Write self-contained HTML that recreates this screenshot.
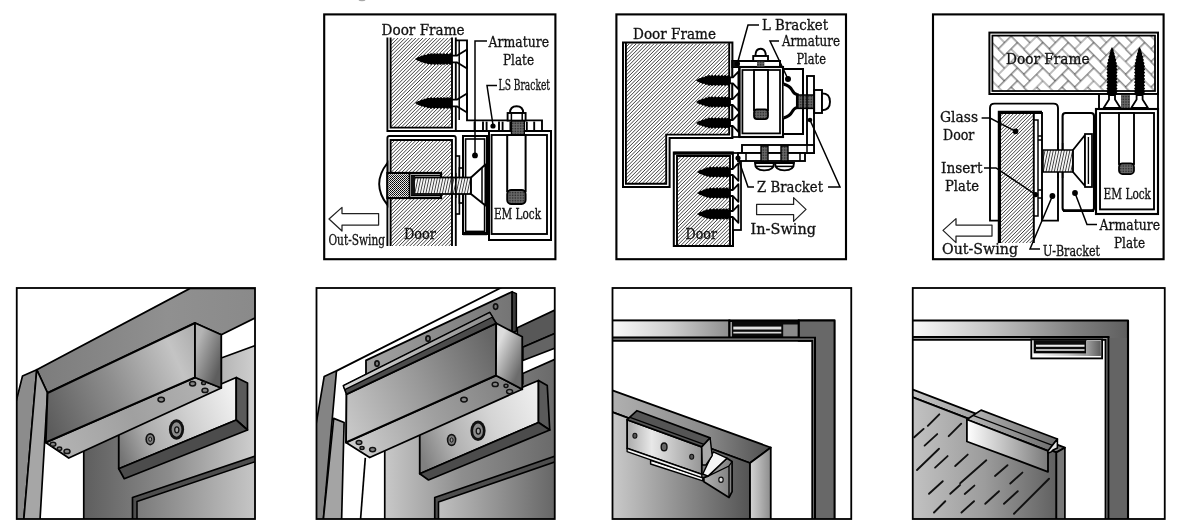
<!DOCTYPE html>
<html><head><meta charset="utf-8"><title>Magnetic lock mounting diagrams</title>
<style>html,body{margin:0;padding:0;background:#fff;}svg{display:block;will-change:transform;}</style>
</head><body>
<svg width="1185" height="526" viewBox="0 0 1185 526">
<rect width="1185" height="526" fill="#fff"/>
<ellipse cx="362" cy="-0.4" rx="3.6" ry="1.6" fill="#a8a8a8"/>
<defs>
<pattern id="hatch" width="2.5" height="6" patternUnits="userSpaceOnUse" patternTransform="rotate(45)"><rect width="0.9" height="6" fill="#1a1a1a"/></pattern>
<pattern id="knurl" width="2" height="2" patternUnits="userSpaceOnUse"><rect width="2" height="2" fill="#fff"/><rect width="1.1" height="1.1" fill="#000"/><rect x="1" y="1" width="1.0" height="1.0" fill="#222"/></pattern>
<pattern id="knurl2" width="1.6" height="1.6" patternUnits="userSpaceOnUse"><rect width="1.6" height="1.6" fill="#6a6a6a"/><rect width="0.8" height="0.8" fill="#222"/></pattern>
<pattern id="thread" width="2.7" height="30" patternUnits="userSpaceOnUse" patternTransform="rotate(12)"><rect width="2.7" height="30" fill="#f4f4f4"/><rect width="0.85" height="30" fill="#333"/></pattern>
<pattern id="hb" width="36.0" height="36.0" patternUnits="userSpaceOnUse" patternTransform="translate(992 30) rotate(45)"><g fill="#fff" stroke="#222" stroke-width="0.6"><rect x="-9.0" y="27.0" width="18.0" height="9.0"/><rect x="0.0" y="0.0" width="18.0" height="9.0"/><rect x="0.0" y="9.0" width="9.0" height="18.0"/><rect x="9.0" y="9.0" width="18.0" height="9.0"/><rect x="9.0" y="18.0" width="9.0" height="18.0"/><rect x="18.0" y="-9.0" width="9.0" height="18.0"/><rect x="18.0" y="18.0" width="18.0" height="9.0"/><rect x="18.0" y="27.0" width="9.0" height="18.0"/><rect x="27.0" y="0.0" width="9.0" height="18.0"/><rect x="27.0" y="27.0" width="18.0" height="9.0"/></g></pattern>
</defs>
<g id="top1">
<rect x="324.2" y="14.4" width="231.2" height="244.8" fill="none" stroke="#000" stroke-width="2.12" rx="0"/>
<clipPath id="hc1"><polygon points="391,38 451.6,38 451.6,127 391,127"/></clipPath>
<path clip-path="url(#hc1)" d="M302.00,127.00l89.00,-89.00M305.55,127.00l89.00,-89.00M309.10,127.00l89.00,-89.00M312.65,127.00l89.00,-89.00M316.20,127.00l89.00,-89.00M319.75,127.00l89.00,-89.00M323.30,127.00l89.00,-89.00M326.85,127.00l89.00,-89.00M330.40,127.00l89.00,-89.00M333.95,127.00l89.00,-89.00M337.50,127.00l89.00,-89.00M341.05,127.00l89.00,-89.00M344.60,127.00l89.00,-89.00M348.15,127.00l89.00,-89.00M351.70,127.00l89.00,-89.00M355.25,127.00l89.00,-89.00M358.80,127.00l89.00,-89.00M362.35,127.00l89.00,-89.00M365.90,127.00l89.00,-89.00M369.45,127.00l89.00,-89.00M373.00,127.00l89.00,-89.00M376.55,127.00l89.00,-89.00M380.10,127.00l89.00,-89.00M383.65,127.00l89.00,-89.00M387.20,127.00l89.00,-89.00M390.75,127.00l89.00,-89.00M394.30,127.00l89.00,-89.00M397.85,127.00l89.00,-89.00M401.40,127.00l89.00,-89.00M404.95,127.00l89.00,-89.00M408.50,127.00l89.00,-89.00M412.05,127.00l89.00,-89.00M415.60,127.00l89.00,-89.00M419.15,127.00l89.00,-89.00M422.70,127.00l89.00,-89.00M426.25,127.00l89.00,-89.00M429.80,127.00l89.00,-89.00M433.35,127.00l89.00,-89.00M436.90,127.00l89.00,-89.00M440.45,127.00l89.00,-89.00M444.00,127.00l89.00,-89.00M447.55,127.00l89.00,-89.00M451.10,127.00l89.00,-89.00" stroke="#1c1c1c" stroke-width="0.85" fill="none"/>
<path d="M387.4,37.5 V131 H455.8 V37.5" fill="none" stroke="#000" stroke-width="1.88" />
<path d="M390.6,37.5 V127.6 H452 V37.5" fill="none" stroke="#000" stroke-width="1.88" />
<clipPath id="hc2"><polygon points="391,140.5 451.6,140.5 451.6,246 391,246"/></clipPath>
<path clip-path="url(#hc2)" d="M285.50,246.00l105.50,-105.50M289.05,246.00l105.50,-105.50M292.60,246.00l105.50,-105.50M296.15,246.00l105.50,-105.50M299.70,246.00l105.50,-105.50M303.25,246.00l105.50,-105.50M306.80,246.00l105.50,-105.50M310.35,246.00l105.50,-105.50M313.90,246.00l105.50,-105.50M317.45,246.00l105.50,-105.50M321.00,246.00l105.50,-105.50M324.55,246.00l105.50,-105.50M328.10,246.00l105.50,-105.50M331.65,246.00l105.50,-105.50M335.20,246.00l105.50,-105.50M338.75,246.00l105.50,-105.50M342.30,246.00l105.50,-105.50M345.85,246.00l105.50,-105.50M349.40,246.00l105.50,-105.50M352.95,246.00l105.50,-105.50M356.50,246.00l105.50,-105.50M360.05,246.00l105.50,-105.50M363.60,246.00l105.50,-105.50M367.15,246.00l105.50,-105.50M370.70,246.00l105.50,-105.50M374.25,246.00l105.50,-105.50M377.80,246.00l105.50,-105.50M381.35,246.00l105.50,-105.50M384.90,246.00l105.50,-105.50M388.45,246.00l105.50,-105.50M392.00,246.00l105.50,-105.50M395.55,246.00l105.50,-105.50M399.10,246.00l105.50,-105.50M402.65,246.00l105.50,-105.50M406.20,246.00l105.50,-105.50M409.75,246.00l105.50,-105.50M413.30,246.00l105.50,-105.50M416.85,246.00l105.50,-105.50M420.40,246.00l105.50,-105.50M423.95,246.00l105.50,-105.50M427.50,246.00l105.50,-105.50M431.05,246.00l105.50,-105.50M434.60,246.00l105.50,-105.50M438.15,246.00l105.50,-105.50M441.70,246.00l105.50,-105.50M445.25,246.00l105.50,-105.50M448.80,246.00l105.50,-105.50" stroke="#1c1c1c" stroke-width="0.85" fill="none"/>
<path d="M387.4,246 V138 Q387.4,136 389.4,136 H453.8 Q455.8,136 455.8,138 V246" fill="none" stroke="#000" stroke-width="1.88" />
<path d="M390.6,246 V140 H452 V246" fill="none" stroke="#000" stroke-width="1.88" />
<polygon fill="#000" points="415.0,59.0 416.6,57.9 418.2,56.9 419.8,56.7 421.4,55.5 423.0,55.8 424.7,54.4 426.3,54.9 427.9,53.4 429.5,54.2 431.1,53.0 432.7,54.2 434.3,53.0 435.9,54.2 437.5,53.0 439.1,54.2 440.7,53.0 442.3,54.2 444.0,53.0 445.6,54.2 447.2,53.0 448.8,54.2 450.4,53.0 452.0,54.2 452.0,63.8 450.4,65.0 448.8,63.8 447.2,65.0 445.6,63.8 444.0,65.0 442.3,63.8 440.7,65.0 439.1,63.8 437.5,65.0 435.9,63.8 434.3,65.0 432.7,63.8 431.1,65.0 429.5,63.8 427.9,64.6 426.3,63.1 424.7,63.6 423.0,62.2 421.4,62.5 419.8,61.3 418.2,61.1 416.6,60.1 415.0,59.0"/>
<polygon fill="#fff" stroke="#000" stroke-width="1.8" stroke-linejoin="round" points="452,55.6 457.2,55.6 467,49.5 467,68.5 457.2,62.4 452,62.4"/>
<polygon fill="#000" points="415.0,103.0 416.6,101.9 418.2,100.9 419.8,100.7 421.4,99.5 423.0,99.8 424.7,98.4 426.3,98.9 427.9,97.4 429.5,98.2 431.1,97.0 432.7,98.2 434.3,97.0 435.9,98.2 437.5,97.0 439.1,98.2 440.7,97.0 442.3,98.2 444.0,97.0 445.6,98.2 447.2,97.0 448.8,98.2 450.4,97.0 452.0,98.2 452.0,107.8 450.4,109.0 448.8,107.8 447.2,109.0 445.6,107.8 444.0,109.0 442.3,107.8 440.7,109.0 439.1,107.8 437.5,109.0 435.9,107.8 434.3,109.0 432.7,107.8 431.1,109.0 429.5,107.8 427.9,108.6 426.3,107.1 424.7,107.6 423.0,106.2 421.4,106.5 419.8,105.3 418.2,105.1 416.6,104.1 415.0,103.0"/>
<polygon fill="#fff" stroke="#000" stroke-width="1.8" stroke-linejoin="round" points="452,99.6 457.2,99.6 467,93.5 467,112.5 457.2,106.4 452,106.4"/>
<path d="M455.8,40.4 H467 V120.4 H542 V131" fill="none" stroke="#000" stroke-width="1.88" />
<path d="M459.2,40.4 V120" fill="none" stroke="#000" stroke-width="1.5" />
<path d="M474.6,121.6 V131" fill="none" stroke="#000" stroke-width="1.88" />
<path d="M483,121.6 V131" fill="none" stroke="#000" stroke-width="1.88" />
<path d="M486.6,121.6 V131" fill="none" stroke="#000" stroke-width="1.88" />
<path d="M499,121.6 V131" fill="none" stroke="#000" stroke-width="1.88" />
<path d="M502.6,121.6 V131" fill="none" stroke="#000" stroke-width="1.88" />
<path d="M510.4,121.6 V131" fill="none" stroke="#000" stroke-width="1.88" />
<path d="M526.8,121.6 V131" fill="none" stroke="#000" stroke-width="1.88" />
<path d="M534.2,121.6 V131" fill="none" stroke="#000" stroke-width="1.88" />
<rect x="455.8" y="156" width="3.6" height="58" fill="#fff" stroke="#000" stroke-width="1.62" rx="0"/>
<rect x="459.4" y="168" width="3.6" height="35" fill="#fff" stroke="#000" stroke-width="1.62" rx="0"/>
<rect x="463" y="136" width="24" height="98" fill="#fff" stroke="#000" stroke-width="2.0" rx="0"/>
<rect x="465.6" y="139" width="19.0" height="92.4" fill="#fff" stroke="#000" stroke-width="1.62" rx="0"/>
<path d="M463,233.6 H487" fill="none" stroke="#000" stroke-width="3.25" />
<path d="M455.8,131 H551 V240 H489 V131" fill="none" stroke="#000" stroke-width="2.0" />
<rect x="491.6" y="135" width="55.4" height="99" fill="#fff" stroke="#000" stroke-width="1.88" rx="0"/>
<path d="M510,113 Q510,106.2 516.6,106.2 Q523.2,106.2 523.2,113 Z" fill="#fff" stroke="#000" stroke-width="1.9"/>
<rect x="507.6" y="113" width="18.0" height="7.6" fill="#fff" stroke="#000" stroke-width="1.88" rx="0"/>
<path d="M511.4,113 V120.6 M522.2,113 V120.6" fill="none" stroke="#000" stroke-width="1.5" />
<rect x="511.4" y="121" width="13" height="14.6" fill="url(#knurl2)" stroke="#000" stroke-width="1.2"/>
<rect x="507.2" y="135" width="18.4" height="56" fill="#fff" stroke="#000" stroke-width="2.0" rx="0"/>
<rect x="507.2" y="190" width="18.4" height="14" rx="4" fill="url(#knurl2)" stroke="#000" stroke-width="1.9"/>
<path d="M387.4,163 Q371,184 387.4,205 Z" fill="#fff" stroke="#000" stroke-width="1.9"/>
<rect x="387.4" y="173" width="53.6" height="25" fill="#fff" stroke="#000" stroke-width="2.25" rx="0"/>
<rect x="388.6" y="174.4" width="20.4" height="22.2" fill="url(#knurl)"/>
<path d="M409.6,174 V197" fill="none" stroke="#000" stroke-width="1.75" />
<rect x="413" y="177.5" width="58" height="16.5" fill="url(#thread)" stroke="#000" stroke-width="1.75"/>
<path d="M411,175.6 H440 M411,195.6 H440" fill="none" stroke="#000" stroke-width="1.5" />
<rect x="411" y="176" width="4" height="19" fill="#111"/>
<path d="M452,173 V198 M455.8,173 V198" fill="none" stroke="#000" stroke-width="1.62" />
<polygon points="471,177.5 485.4,164.5 485.4,205.5 471,194" fill="#fff" stroke="#000" stroke-width="1.88" stroke-linejoin="round" />
<path d="M482,167.5 V202.5" fill="none" stroke="#000" stroke-width="1.5" />
<text x="381.6" y="35" font-size="14.3" textLength="83" lengthAdjust="spacingAndGlyphs" font-family="'DejaVu Serif','Liberation Serif',serif" fill="#111" stroke="#111" stroke-width="0.3" >Door Frame</text>
<text x="488.6" y="47" font-size="14.0" textLength="60.4" lengthAdjust="spacingAndGlyphs" font-family="'DejaVu Serif','Liberation Serif',serif" fill="#111" stroke="#111" stroke-width="0.3" >Armature</text>
<text x="503" y="65" font-size="14.0" textLength="31" lengthAdjust="spacingAndGlyphs" font-family="'DejaVu Serif','Liberation Serif',serif" fill="#111" stroke="#111" stroke-width="0.3" >Plate</text>
<text x="498.6" y="90.4" font-size="14.2" textLength="51.4" lengthAdjust="spacingAndGlyphs" font-family="'DejaVu Serif Condensed','DejaVu Serif','Liberation Serif',serif" fill="#111" stroke="#111" stroke-width="0.3" >LS Bracket</text>
<text x="494" y="219.4" font-size="14.2" textLength="47" lengthAdjust="spacingAndGlyphs" font-family="'DejaVu Serif Condensed','DejaVu Serif','Liberation Serif',serif" fill="#111" stroke="#111" stroke-width="0.3" >EM Lock</text>
<text x="404" y="238.6" font-size="14.3" textLength="32" lengthAdjust="spacingAndGlyphs" font-family="'DejaVu Serif','Liberation Serif',serif" fill="#111" stroke="#111" stroke-width="0.3" >Door</text>
<text x="328.4" y="244.6" font-size="14.2" textLength="56.6" lengthAdjust="spacingAndGlyphs" font-family="'DejaVu Serif Condensed','DejaVu Serif','Liberation Serif',serif" fill="#111" stroke="#111" stroke-width="0.3" >Out-Swing</text>
<path d="M487,41 H475 V155" fill="none" stroke="#000" stroke-width="1.5" />
<circle cx="475" cy="155.4" r="2.9" fill="#000"/>
<path d="M497,85.6 H487 L493,125" fill="none" stroke="#000" stroke-width="1.5" />
<circle cx="493" cy="126" r="2.6" fill="#000"/>
<polygon points="329,219 342,207.4 342,213.6 378.6,213.6 378.6,225 342,225 342,231" fill="#fff" stroke="#222" stroke-width="1.25" stroke-linejoin="round" />
</g>
<g id="top2">
<rect x="616.4" y="14.4" width="229.6" height="244.8" fill="none" stroke="#000" stroke-width="2.12" rx="0"/>
<clipPath id="hc3"><polygon points="626,43.4 729,43.4 729,134.4 666,134.4 666,183.6 626,183.6"/></clipPath>
<path clip-path="url(#hc3)" d="M485.80,183.60l140.20,-140.20M489.35,183.60l140.20,-140.20M492.90,183.60l140.20,-140.20M496.45,183.60l140.20,-140.20M500.00,183.60l140.20,-140.20M503.55,183.60l140.20,-140.20M507.10,183.60l140.20,-140.20M510.65,183.60l140.20,-140.20M514.20,183.60l140.20,-140.20M517.75,183.60l140.20,-140.20M521.30,183.60l140.20,-140.20M524.85,183.60l140.20,-140.20M528.40,183.60l140.20,-140.20M531.95,183.60l140.20,-140.20M535.50,183.60l140.20,-140.20M539.05,183.60l140.20,-140.20M542.60,183.60l140.20,-140.20M546.15,183.60l140.20,-140.20M549.70,183.60l140.20,-140.20M553.25,183.60l140.20,-140.20M556.80,183.60l140.20,-140.20M560.35,183.60l140.20,-140.20M563.90,183.60l140.20,-140.20M567.45,183.60l140.20,-140.20M571.00,183.60l140.20,-140.20M574.55,183.60l140.20,-140.20M578.10,183.60l140.20,-140.20M581.65,183.60l140.20,-140.20M585.20,183.60l140.20,-140.20M588.75,183.60l140.20,-140.20M592.30,183.60l140.20,-140.20M595.85,183.60l140.20,-140.20M599.40,183.60l140.20,-140.20M602.95,183.60l140.20,-140.20M606.50,183.60l140.20,-140.20M610.05,183.60l140.20,-140.20M613.60,183.60l140.20,-140.20M617.15,183.60l140.20,-140.20M620.70,183.60l140.20,-140.20M624.25,183.60l140.20,-140.20M627.80,183.60l140.20,-140.20M631.35,183.60l140.20,-140.20M634.90,183.60l140.20,-140.20M638.45,183.60l140.20,-140.20M642.00,183.60l140.20,-140.20M645.55,183.60l140.20,-140.20M649.10,183.60l140.20,-140.20M652.65,183.60l140.20,-140.20M656.20,183.60l140.20,-140.20M659.75,183.60l140.20,-140.20M663.30,183.60l140.20,-140.20M666.85,183.60l140.20,-140.20M670.40,183.60l140.20,-140.20M673.95,183.60l140.20,-140.20M677.50,183.60l140.20,-140.20M681.05,183.60l140.20,-140.20M684.60,183.60l140.20,-140.20M688.15,183.60l140.20,-140.20M691.70,183.60l140.20,-140.20M695.25,183.60l140.20,-140.20M698.80,183.60l140.20,-140.20M702.35,183.60l140.20,-140.20M705.90,183.60l140.20,-140.20M709.45,183.60l140.20,-140.20M713.00,183.60l140.20,-140.20M716.55,183.60l140.20,-140.20M720.10,183.60l140.20,-140.20M723.65,183.60l140.20,-140.20M727.20,183.60l140.20,-140.20" stroke="#1c1c1c" stroke-width="0.85" fill="none"/>
<path d="M623,42.6 H732.4 V138 H669.6 V187 H623 Z" fill="none" stroke="#000" stroke-width="2.0" />
<path d="M625.9,43 V183.8 H666.2 V134.6 H729.2 V43" fill="none" stroke="#000" stroke-width="1.88" />
<clipPath id="hc4"><polygon points="677.6,156.4 729.6,156.4 729.6,246 677.6,246"/></clipPath>
<path clip-path="url(#hc4)" d="M588.00,246.00l89.60,-89.60M591.55,246.00l89.60,-89.60M595.10,246.00l89.60,-89.60M598.65,246.00l89.60,-89.60M602.20,246.00l89.60,-89.60M605.75,246.00l89.60,-89.60M609.30,246.00l89.60,-89.60M612.85,246.00l89.60,-89.60M616.40,246.00l89.60,-89.60M619.95,246.00l89.60,-89.60M623.50,246.00l89.60,-89.60M627.05,246.00l89.60,-89.60M630.60,246.00l89.60,-89.60M634.15,246.00l89.60,-89.60M637.70,246.00l89.60,-89.60M641.25,246.00l89.60,-89.60M644.80,246.00l89.60,-89.60M648.35,246.00l89.60,-89.60M651.90,246.00l89.60,-89.60M655.45,246.00l89.60,-89.60M659.00,246.00l89.60,-89.60M662.55,246.00l89.60,-89.60M666.10,246.00l89.60,-89.60M669.65,246.00l89.60,-89.60M673.20,246.00l89.60,-89.60M676.75,246.00l89.60,-89.60M680.30,246.00l89.60,-89.60M683.85,246.00l89.60,-89.60M687.40,246.00l89.60,-89.60M690.95,246.00l89.60,-89.60M694.50,246.00l89.60,-89.60M698.05,246.00l89.60,-89.60M701.60,246.00l89.60,-89.60M705.15,246.00l89.60,-89.60M708.70,246.00l89.60,-89.60M712.25,246.00l89.60,-89.60M715.80,246.00l89.60,-89.60M719.35,246.00l89.60,-89.60M722.90,246.00l89.60,-89.60M726.45,246.00l89.60,-89.60" stroke="#1c1c1c" stroke-width="0.85" fill="none"/>
<path d="M673.8,246 V152.4 H733 V246 Z" fill="none" stroke="#000" stroke-width="2.0" />
<path d="M677,246 V156 H730 V246" fill="none" stroke="#000" stroke-width="1.88" />
<path d="M673.8,153.2 H733" fill="none" stroke="#000" stroke-width="3.0" />
<rect x="732.4" y="61" width="6.6" height="76" fill="#fff" stroke="#000" stroke-width="1.75" rx="0"/>
<polygon fill="#000" points="696.0,80.4 697.6,79.3 699.2,78.2 700.9,78.1 702.5,76.9 704.1,77.2 705.7,75.7 707.3,76.3 709.0,74.7 710.6,75.9 712.2,74.7 713.8,75.9 715.4,74.7 717.0,75.9 718.7,74.7 720.3,75.9 721.9,74.7 723.5,75.9 725.1,74.7 726.8,75.9 728.4,74.7 730.0,75.9 730.0,84.9 728.4,86.1 726.8,84.9 725.1,86.1 723.5,84.9 721.9,86.1 720.3,84.9 718.7,86.1 717.0,84.9 715.4,86.1 713.8,84.9 712.2,86.1 710.6,84.9 709.0,86.1 707.3,84.5 705.7,85.1 704.1,83.6 702.5,83.9 700.9,82.7 699.2,82.6 697.6,81.5 696.0,80.4"/>
<polygon fill="#fff" stroke="#000" stroke-width="1.8" stroke-linejoin="round" points="730,77.4 732.9,77.4 738.4,71.60000000000001 738.4,89.2 732.9,83.4 730,83.4"/>
<polygon fill="#000" points="696.0,102.0 697.6,100.9 699.2,99.8 700.9,99.7 702.5,98.5 704.1,98.8 705.7,97.3 707.3,97.9 709.0,96.3 710.6,97.5 712.2,96.3 713.8,97.5 715.4,96.3 717.0,97.5 718.7,96.3 720.3,97.5 721.9,96.3 723.5,97.5 725.1,96.3 726.8,97.5 728.4,96.3 730.0,97.5 730.0,106.5 728.4,107.7 726.8,106.5 725.1,107.7 723.5,106.5 721.9,107.7 720.3,106.5 718.7,107.7 717.0,106.5 715.4,107.7 713.8,106.5 712.2,107.7 710.6,106.5 709.0,107.7 707.3,106.1 705.7,106.7 704.1,105.2 702.5,105.5 700.9,104.3 699.2,104.2 697.6,103.1 696.0,102.0"/>
<polygon fill="#fff" stroke="#000" stroke-width="1.8" stroke-linejoin="round" points="730,99.0 732.9,99.0 738.4,93.2 738.4,110.8 732.9,105.0 730,105.0"/>
<polygon fill="#000" points="696.0,123.0 697.6,121.9 699.2,120.8 700.9,120.7 702.5,119.5 704.1,119.8 705.7,118.3 707.3,118.9 709.0,117.3 710.6,118.5 712.2,117.3 713.8,118.5 715.4,117.3 717.0,118.5 718.7,117.3 720.3,118.5 721.9,117.3 723.5,118.5 725.1,117.3 726.8,118.5 728.4,117.3 730.0,118.5 730.0,127.5 728.4,128.7 726.8,127.5 725.1,128.7 723.5,127.5 721.9,128.7 720.3,127.5 718.7,128.7 717.0,127.5 715.4,128.7 713.8,127.5 712.2,128.7 710.6,127.5 709.0,128.7 707.3,127.1 705.7,127.7 704.1,126.2 702.5,126.5 700.9,125.3 699.2,125.2 697.6,124.1 696.0,123.0"/>
<polygon fill="#fff" stroke="#000" stroke-width="1.8" stroke-linejoin="round" points="730,120.0 732.9,120.0 738.4,114.2 738.4,131.8 732.9,126.0 730,126.0"/>
<rect x="733" y="153" width="8" height="77" fill="#fff" stroke="#000" stroke-width="1.75" rx="0"/>
<polygon fill="#000" points="697.0,172.0 698.6,170.9 700.3,169.8 702.0,169.7 703.6,168.4 705.2,168.6 706.9,167.2 708.5,167.8 710.2,166.3 711.9,167.5 713.5,166.3 715.1,167.5 716.8,166.3 718.5,167.5 720.1,166.3 721.8,167.5 723.4,166.3 725.0,167.5 726.7,166.3 728.4,167.5 730.0,166.3 730.0,177.7 728.4,176.5 726.7,177.7 725.0,176.5 723.4,177.7 721.8,176.5 720.1,177.7 718.5,176.5 716.8,177.7 715.1,176.5 713.5,177.7 711.9,176.5 710.2,177.7 708.5,176.2 706.9,176.8 705.2,175.4 703.6,175.6 702.0,174.3 700.3,174.2 698.6,173.1 697.0,172.0"/>
<polygon fill="#fff" stroke="#000" stroke-width="1.8" stroke-linejoin="round" points="730,169.0 732.9,169.0 738.4,163.2 738.4,180.8 732.9,175.0 730,175.0"/>
<polygon fill="#000" points="697.0,193.0 698.6,191.9 700.3,190.8 702.0,190.7 703.6,189.4 705.2,189.6 706.9,188.2 708.5,188.8 710.2,187.3 711.9,188.5 713.5,187.3 715.1,188.5 716.8,187.3 718.5,188.5 720.1,187.3 721.8,188.5 723.4,187.3 725.0,188.5 726.7,187.3 728.4,188.5 730.0,187.3 730.0,198.7 728.4,197.5 726.7,198.7 725.0,197.5 723.4,198.7 721.8,197.5 720.1,198.7 718.5,197.5 716.8,198.7 715.1,197.5 713.5,198.7 711.9,197.5 710.2,198.7 708.5,197.2 706.9,197.8 705.2,196.4 703.6,196.6 702.0,195.3 700.3,195.2 698.6,194.1 697.0,193.0"/>
<polygon fill="#fff" stroke="#000" stroke-width="1.8" stroke-linejoin="round" points="730,190.0 732.9,190.0 738.4,184.2 738.4,201.8 732.9,196.0 730,196.0"/>
<polygon fill="#000" points="697.0,214.0 698.6,212.9 700.3,211.8 702.0,211.7 703.6,210.4 705.2,210.6 706.9,209.2 708.5,209.8 710.2,208.3 711.9,209.5 713.5,208.3 715.1,209.5 716.8,208.3 718.5,209.5 720.1,208.3 721.8,209.5 723.4,208.3 725.0,209.5 726.7,208.3 728.4,209.5 730.0,208.3 730.0,219.7 728.4,218.5 726.7,219.7 725.0,218.5 723.4,219.7 721.8,218.5 720.1,219.7 718.5,218.5 716.8,219.7 715.1,218.5 713.5,219.7 711.9,218.5 710.2,219.7 708.5,218.2 706.9,218.8 705.2,217.4 703.6,217.6 702.0,216.3 700.3,216.2 698.6,215.1 697.0,214.0"/>
<polygon fill="#fff" stroke="#000" stroke-width="1.8" stroke-linejoin="round" points="730,211.0 732.9,211.0 738.4,205.2 738.4,222.8 732.9,217.0 730,217.0"/>
<rect x="732.4" y="61" width="47.6" height="6" fill="#fff" stroke="#000" stroke-width="2.0" rx="0"/>
<rect x="733" y="61.4" width="6.4" height="5.4" fill="#111"/>
<rect x="739.6" y="67" width="43.4" height="70" fill="#fff" stroke="#000" stroke-width="2.12" rx="0"/>
<rect x="742.4" y="70" width="37.6" height="63.4" fill="#fff" stroke="#000" stroke-width="1.75" rx="0"/>
<rect x="754" y="70" width="14" height="40" fill="#fff" stroke="#000" stroke-width="1.88" rx="0"/>
<rect x="754" y="109.4" width="14" height="9.6" rx="3" fill="url(#knurl2)" stroke="#000" stroke-width="1.75"/>
<path d="M755.4,56 Q755.4,48.8 760.6,48.8 Q765.8,48.8 765.8,56 Z" fill="#fff" stroke="#000" stroke-width="1.9"/>
<rect x="753.2" y="56" width="14.8" height="5" fill="#fff" stroke="#000" stroke-width="1.88" rx="0"/>
<rect x="757" y="61.6" width="7.4" height="5" fill="url(#knurl2)"/>
<rect x="783" y="69" width="20" height="65" fill="#fff" stroke="#000" stroke-width="2.0" rx="0"/>
<path d="M783.6,84 Q790,86 792,90 Q794,94 797.4,94.6 V107.4 Q794,108 792,112 Q790,116 783.6,118" fill="#fff" stroke="#000" stroke-width="2.9"/>
<rect x="807" y="76" width="7" height="77" fill="#fff" stroke="#000" stroke-width="1.88" rx="0"/>
<rect x="797.8" y="95" width="16.4" height="13.4" fill="url(#knurl2)" stroke="#000" stroke-width="1.5"/>
<path d="M803,94 V108 M807,94 V108" fill="none" stroke="#000" stroke-width="1.5" />
<rect x="814.2" y="90" width="7.8" height="23" fill="#fff" stroke="#000" stroke-width="1.88" rx="0"/>
<path d="M822,93.4 Q830,93.4 830,101.8 Q830,110.2 822,110.2 Z" fill="#fff" stroke="#000" stroke-width="1.9"/>
<rect x="742" y="145" width="72" height="8" fill="#fff" stroke="#000" stroke-width="1.88" rx="0"/>
<rect x="738" y="153" width="67" height="8" fill="#fff" stroke="#000" stroke-width="1.88" rx="0"/>
<path d="M807,145 V153 M800,153 V161 M746,153 V161" fill="none" stroke="#000" stroke-width="1.5" />
<rect x="761" y="146" width="7" height="15" fill="url(#knurl2)" stroke="#000" stroke-width="1.4"/>
<path d="M755,163 H774 Q774,170.4 764.5,170.4 Q755,170.4 755,163 Z" fill="#fff" stroke="#000" stroke-width="1.9"/>
<path d="M756,166.4 H773" fill="none" stroke="#000" stroke-width="1.5" />
<rect x="781" y="146" width="7" height="15" fill="url(#knurl2)" stroke="#000" stroke-width="1.4"/>
<path d="M775,163 H794 Q794,170.4 784.5,170.4 Q775,170.4 775,163 Z" fill="#fff" stroke="#000" stroke-width="1.9"/>
<path d="M776,166.4 H793" fill="none" stroke="#000" stroke-width="1.5" />
<text x="633" y="39" font-size="14.3" textLength="83" lengthAdjust="spacingAndGlyphs" font-family="'DejaVu Serif','Liberation Serif',serif" fill="#111" stroke="#111" stroke-width="0.3" >Door Frame</text>
<text x="762" y="30" font-size="14.3" textLength="66" lengthAdjust="spacingAndGlyphs" font-family="'DejaVu Serif','Liberation Serif',serif" fill="#111" stroke="#111" stroke-width="0.3" >L Bracket</text>
<text x="782" y="46" font-size="14.0" textLength="58" lengthAdjust="spacingAndGlyphs" font-family="'DejaVu Serif','Liberation Serif',serif" fill="#111" stroke="#111" stroke-width="0.3" >Armature</text>
<text x="796.4" y="63.6" font-size="14.0" textLength="29.6" lengthAdjust="spacingAndGlyphs" font-family="'DejaVu Serif','Liberation Serif',serif" fill="#111" stroke="#111" stroke-width="0.3" >Plate</text>
<text x="757" y="191.8" font-size="14.3" textLength="66" lengthAdjust="spacingAndGlyphs" font-family="'DejaVu Serif','Liberation Serif',serif" fill="#111" stroke="#111" stroke-width="0.3" >Z Bracket</text>
<text x="750.6" y="234" font-size="14.3" textLength="65.4" lengthAdjust="spacingAndGlyphs" font-family="'DejaVu Serif','Liberation Serif',serif" fill="#111" stroke="#111" stroke-width="0.3" >In-Swing</text>
<text x="685.6" y="238.6" font-size="14.3" textLength="31.4" lengthAdjust="spacingAndGlyphs" font-family="'DejaVu Serif','Liberation Serif',serif" fill="#111" stroke="#111" stroke-width="0.3" >Door</text>
<path d="M759,25 H748 L737.5,63" fill="none" stroke="#000" stroke-width="1.5" />
<circle cx="737.4" cy="63.8" r="2.6" fill="#000"/>
<path d="M779,41 H770 L788,79" fill="none" stroke="#000" stroke-width="1.5" />
<circle cx="788" cy="79" r="3" fill="#000"/>
<path d="M738,158 L748,187 H754" fill="none" stroke="#000" stroke-width="1.5" />
<circle cx="738" cy="158" r="2.6" fill="#000"/>
<path d="M828,187 H840 L810,120" fill="none" stroke="#000" stroke-width="1.5" />
<circle cx="810" cy="120" r="2.3" fill="#000"/>
<polygon points="756.6,204.4 793.6,204.4 793.6,197.6 806,209.4 793.6,221.4 793.6,214.6 756.6,214.6" fill="#fff" stroke="#222" stroke-width="1.25" stroke-linejoin="round" />
</g>
<g id="top3">
<rect x="933" y="14.4" width="230.6" height="244.8" fill="none" stroke="#000" stroke-width="2.12" rx="0"/>
<rect x="992.4" y="35.6" width="162.6" height="55.4" fill="url(#hb)"/>
<rect x="989.4" y="32.6" width="168.6" height="61.4" fill="none" stroke="#000" stroke-width="2.0" rx="0"/>
<rect x="992.4" y="35.6" width="162.6" height="55.4" fill="none" stroke="#000" stroke-width="1.75" rx="0"/>
<text x="1006" y="64" font-size="14.3" textLength="83.6" lengthAdjust="spacingAndGlyphs" font-family="'DejaVu Serif','Liberation Serif',serif" fill="#111" stroke="#111" stroke-width="0.3" >Door Frame</text>
<rect x="1099" y="94" width="59" height="15" fill="#fff" stroke="#000" stroke-width="1.88" rx="0"/>
<rect x="1121" y="95" width="9" height="15" fill="url(#knurl2)"/>
<polygon fill="#000" points="1112.0,47.0 1111.2,48.6 1110.4,50.2 1110.3,51.8 1109.4,53.4 1109.6,55.0 1108.5,56.6 1108.9,58.2 1107.7,59.8 1108.4,61.4 1107.0,63.0 1107.8,64.6 1106.5,66.2 1107.7,67.8 1106.5,69.4 1107.7,71.0 1106.5,72.6 1107.7,74.2 1106.5,75.8 1107.7,77.4 1106.5,79.0 1107.7,80.6 1106.5,82.2 1107.7,83.8 1106.5,85.4 1107.7,87.0 1106.5,88.6 1107.7,90.2 1106.5,91.8 1107.7,93.4 1106.5,95.0 1117.5,95.0 1116.3,93.4 1117.5,91.8 1116.3,90.2 1117.5,88.6 1116.3,87.0 1117.5,85.4 1116.3,83.8 1117.5,82.2 1116.3,80.6 1117.5,79.0 1116.3,77.4 1117.5,75.8 1116.3,74.2 1117.5,72.6 1116.3,71.0 1117.5,69.4 1116.3,67.8 1117.5,66.2 1116.2,64.6 1117.0,63.0 1115.6,61.4 1116.3,59.8 1115.1,58.2 1115.5,56.6 1114.4,55.0 1114.6,53.4 1113.7,51.8 1113.6,50.2 1112.8,48.6 1112.0,47.0"/>
<polygon fill="#fff" stroke="#000" stroke-width="1.8" stroke-linejoin="round" points="1109.0,95 1109.0,99.5 1103.6,108 1120.4,108 1115.0,99.5 1115.0,95"/>
<polygon fill="#000" points="1139.6,47.0 1138.8,48.6 1138.0,50.2 1137.9,51.8 1137.0,53.4 1137.2,55.0 1136.1,56.6 1136.5,58.2 1135.3,59.8 1136.0,61.4 1134.6,63.0 1135.4,64.6 1134.1,66.2 1135.3,67.8 1134.1,69.4 1135.3,71.0 1134.1,72.6 1135.3,74.2 1134.1,75.8 1135.3,77.4 1134.1,79.0 1135.3,80.6 1134.1,82.2 1135.3,83.8 1134.1,85.4 1135.3,87.0 1134.1,88.6 1135.3,90.2 1134.1,91.8 1135.3,93.4 1134.1,95.0 1145.1,95.0 1143.9,93.4 1145.1,91.8 1143.9,90.2 1145.1,88.6 1143.9,87.0 1145.1,85.4 1143.9,83.8 1145.1,82.2 1143.9,80.6 1145.1,79.0 1143.9,77.4 1145.1,75.8 1143.9,74.2 1145.1,72.6 1143.9,71.0 1145.1,69.4 1143.9,67.8 1145.1,66.2 1143.8,64.6 1144.6,63.0 1143.2,61.4 1143.9,59.8 1142.7,58.2 1143.1,56.6 1142.0,55.0 1142.2,53.4 1141.3,51.8 1141.2,50.2 1140.4,48.6 1139.6,47.0"/>
<polygon fill="#fff" stroke="#000" stroke-width="1.8" stroke-linejoin="round" points="1136.6,95 1136.6,99.5 1131.1999999999998,108 1148.0,108 1142.6,99.5 1142.6,95"/>
<rect x="1096" y="109" width="62" height="105" fill="#fff" stroke="#000" stroke-width="2.12" rx="0"/>
<rect x="1100" y="113" width="54" height="96.4" fill="#fff" stroke="#000" stroke-width="1.88" rx="0"/>
<rect x="1119" y="113" width="15" height="51" fill="#fff" stroke="#000" stroke-width="1.88" rx="0"/>
<rect x="1119" y="163.4" width="15" height="10.6" rx="3.5" fill="url(#knurl2)" stroke="#000" stroke-width="1.75"/>
<text x="1103.6" y="199" font-size="14.2" textLength="47.4" lengthAdjust="spacingAndGlyphs" font-family="'DejaVu Serif Condensed','DejaVu Serif','Liberation Serif',serif" fill="#111" stroke="#111" stroke-width="0.3" >EM Lock</text>
<path d="M990,220.6 V108 Q990,103.6 994.5,103.6 H1053.5 Q1058,103.6 1058,108 V220.6 H1042 V113 H999 V220.6 Z" fill="#fff" stroke="#000" stroke-width="1.9"/>
<clipPath id="hc5"><polygon points="1000,113 1033.4,113 1033.4,243 1000,243"/></clipPath>
<path clip-path="url(#hc5)" d="M870.00,243.00l130.00,-130.00M873.55,243.00l130.00,-130.00M877.10,243.00l130.00,-130.00M880.65,243.00l130.00,-130.00M884.20,243.00l130.00,-130.00M887.75,243.00l130.00,-130.00M891.30,243.00l130.00,-130.00M894.85,243.00l130.00,-130.00M898.40,243.00l130.00,-130.00M901.95,243.00l130.00,-130.00M905.50,243.00l130.00,-130.00M909.05,243.00l130.00,-130.00M912.60,243.00l130.00,-130.00M916.15,243.00l130.00,-130.00M919.70,243.00l130.00,-130.00M923.25,243.00l130.00,-130.00M926.80,243.00l130.00,-130.00M930.35,243.00l130.00,-130.00M933.90,243.00l130.00,-130.00M937.45,243.00l130.00,-130.00M941.00,243.00l130.00,-130.00M944.55,243.00l130.00,-130.00M948.10,243.00l130.00,-130.00M951.65,243.00l130.00,-130.00M955.20,243.00l130.00,-130.00M958.75,243.00l130.00,-130.00M962.30,243.00l130.00,-130.00M965.85,243.00l130.00,-130.00M969.40,243.00l130.00,-130.00M972.95,243.00l130.00,-130.00M976.50,243.00l130.00,-130.00M980.05,243.00l130.00,-130.00M983.60,243.00l130.00,-130.00M987.15,243.00l130.00,-130.00M990.70,243.00l130.00,-130.00M994.25,243.00l130.00,-130.00M997.80,243.00l130.00,-130.00M1001.35,243.00l130.00,-130.00M1004.90,243.00l130.00,-130.00M1008.45,243.00l130.00,-130.00M1012.00,243.00l130.00,-130.00M1015.55,243.00l130.00,-130.00M1019.10,243.00l130.00,-130.00M1022.65,243.00l130.00,-130.00M1026.20,243.00l130.00,-130.00M1029.75,243.00l130.00,-130.00M1033.30,243.00l130.00,-130.00" stroke="#1c1c1c" stroke-width="0.85" fill="none"/>
<path d="M999.4,243 V112.4 H1042" fill="none" stroke="#000" stroke-width="3.25" />
<path d="M1033.8,113 V243" fill="none" stroke="#000" stroke-width="2.0" />
<rect x="1034" y="120" width="4" height="96" fill="#fff" stroke="#000" stroke-width="1.5" rx="0"/>
<path d="M1038,136 H1042 M1038,140 H1042 M1038,190 H1042 M1038,198 H1042" fill="none" stroke="#000" stroke-width="1.38" />
<rect x="1062.6" y="113" width="31.4" height="98" fill="#fff" stroke="#000" stroke-width="2.12" rx="3"/>
<path d="M1063,210.6 H1094" fill="none" stroke="#000" stroke-width="2.75" />
<rect x="1043" y="150" width="30.4" height="22" fill="url(#thread)" stroke="#000" stroke-width="1.5"/>
<path d="M1058,143 V150 M1058,172 V178 M1062.6,143 V150 M1062.6,172 V178" fill="none" stroke="#000" stroke-width="1.5" />
<polygon points="1073,150 1085,135 1085,186 1073,172" fill="#fff" stroke="#000" stroke-width="1.88" stroke-linejoin="round" />
<rect x="1085" y="134" width="7" height="53" fill="#fff" stroke="#000" stroke-width="1.75" rx="0"/>
<path d="M1088.4,137 V184" fill="none" stroke="#000" stroke-width="1.38" />
<text x="940" y="122.4" font-size="14.3" textLength="38" lengthAdjust="spacingAndGlyphs" font-family="'DejaVu Serif','Liberation Serif',serif" fill="#111" stroke="#111" stroke-width="0.3" >Glass</text>
<text x="943" y="140" font-size="14.3" textLength="31.4" lengthAdjust="spacingAndGlyphs" font-family="'DejaVu Serif','Liberation Serif',serif" fill="#111" stroke="#111" stroke-width="0.3" >Door</text>
<text x="941" y="173" font-size="14.3" textLength="41.4" lengthAdjust="spacingAndGlyphs" font-family="'DejaVu Serif','Liberation Serif',serif" fill="#111" stroke="#111" stroke-width="0.3" >Insert</text>
<text x="945" y="191" font-size="14.3" textLength="34" lengthAdjust="spacingAndGlyphs" font-family="'DejaVu Serif','Liberation Serif',serif" fill="#111" stroke="#111" stroke-width="0.3" >Plate</text>
<text x="942" y="254" font-size="14.3" textLength="76" lengthAdjust="spacingAndGlyphs" font-family="'DejaVu Serif','Liberation Serif',serif" fill="#111" stroke="#111" stroke-width="0.3" >Out-Swing</text>
<text x="1043" y="256" font-size="14.2" textLength="57" lengthAdjust="spacingAndGlyphs" font-family="'DejaVu Serif Condensed','DejaVu Serif','Liberation Serif',serif" fill="#111" stroke="#111" stroke-width="0.3" >U-Bracket</text>
<text x="1099.6" y="230.4" font-size="14.0" textLength="60.4" lengthAdjust="spacingAndGlyphs" font-family="'DejaVu Serif','Liberation Serif',serif" fill="#111" stroke="#111" stroke-width="0.3" >Armature</text>
<text x="1114" y="248" font-size="14.0" textLength="31" lengthAdjust="spacingAndGlyphs" font-family="'DejaVu Serif','Liberation Serif',serif" fill="#111" stroke="#111" stroke-width="0.3" >Plate</text>
<path d="M981.6,118 H990 L1015.6,131.4" fill="none" stroke="#000" stroke-width="1.5" />
<circle cx="1015.6" cy="131.4" r="2.8" fill="#000"/>
<path d="M984,168 H996 L1035.6,194.6" fill="none" stroke="#000" stroke-width="1.5" />
<circle cx="1035.6" cy="194.6" r="2.6" fill="#000"/>
<path d="M1052.4,196 L1030,249 H1040" fill="none" stroke="#000" stroke-width="1.5" />
<circle cx="1052.4" cy="196" r="2.9" fill="#000"/>
<path d="M1075,193 L1087,224.4 H1097" fill="none" stroke="#000" stroke-width="1.5" />
<circle cx="1075" cy="193" r="2.9" fill="#000"/>
<polygon points="943,230.4 956,218.6 956,225 992,225 992,236 956,236 956,242.6" fill="#fff" stroke="#222" stroke-width="1.25" stroke-linejoin="round" />
</g>
<defs>
<clipPath id="cA"><rect x="16.75" y="288" width="238.25" height="231"/></clipPath>
<linearGradient id="aFront" gradientUnits="userSpaceOnUse" x1="45" y1="420" x2="200" y2="350"><stop offset="0" stop-color="#5c5c5c"/><stop offset="0.45" stop-color="#8e8e8e"/><stop offset="0.85" stop-color="#c4c4c4"/><stop offset="1" stop-color="#b0b0b0"/></linearGradient>
<linearGradient id="aEnd" gradientUnits="userSpaceOnUse" x1="195" y1="350" x2="222" y2="360"><stop offset="0" stop-color="#b4b4b4"/><stop offset="1" stop-color="#5e5e5e"/></linearGradient>
<linearGradient id="aBot" gradientUnits="userSpaceOnUse" x1="50" y1="450" x2="215" y2="380"><stop offset="0" stop-color="#b4b4b4"/><stop offset="0.5" stop-color="#a0a0a0"/><stop offset="1" stop-color="#b4b4b4"/></linearGradient>
<linearGradient id="aArm" gradientUnits="userSpaceOnUse" x1="118" y1="450" x2="238" y2="400"><stop offset="0" stop-color="#747474"/><stop offset="0.25" stop-color="#acacac"/><stop offset="0.6" stop-color="#d0d0d0"/><stop offset="1" stop-color="#f2f2f2"/></linearGradient>
<linearGradient id="aWall" gradientUnits="userSpaceOnUse" x1="84" y1="0" x2="255" y2="0"><stop offset="0" stop-color="#5e5e5e"/><stop offset="0.5" stop-color="#8c8c8c"/><stop offset="1" stop-color="#cfcfcf"/></linearGradient>
<linearGradient id="aHead" gradientUnits="userSpaceOnUse" x1="36" y1="0" x2="255" y2="0"><stop offset="0" stop-color="#7c7c7c"/><stop offset="0.6" stop-color="#909090"/><stop offset="1" stop-color="#8a8a8a"/></linearGradient>
<linearGradient id="aPanel" gradientUnits="userSpaceOnUse" x1="137" y1="0" x2="255" y2="0"><stop offset="0" stop-color="#7a7a7a"/><stop offset="1" stop-color="#c6c6c6"/></linearGradient>
</defs>
<g id="botA" clip-path="url(#cA)">
<polygon points="83.75,520 83.75,446 221.25,384 221.25,358 256,345.2 256,520" fill="url(#aWall)" stroke="#000" stroke-width="1.69" stroke-linejoin="round" />
<polygon points="132.5,520 132.5,497.5 256,455.8 256,520" fill="#4e4e4e" stroke="#000" stroke-width="1.69" stroke-linejoin="round" />
<polygon points="137,520 137,501.6 256,461.4 256,520" fill="url(#aPanel)" stroke="#000" stroke-width="1.56" stroke-linejoin="round" />
<polygon points="36.75,369.75 190,288.4 256,288.4 256,317.6 221.25,334.75 195,323 47.5,393" fill="url(#aHead)" stroke="#000" stroke-width="1.82" stroke-linejoin="round" />
<polygon points="22.5,376 36.75,369.75 23.75,520 16,520 16,402" fill="#8c8c8c" stroke="#000" stroke-width="1.69" stroke-linejoin="round" />
<polygon points="36.75,369.75 47.5,393 40,520 23.75,520" fill="#a6a6a6" stroke="#000" stroke-width="1.69" stroke-linejoin="round" />
<polygon points="118.75,428 236.25,377.5 236.25,420 118.75,468.75" fill="url(#aArm)" stroke="#000" stroke-width="1.82" stroke-linejoin="round" />
<polygon points="236.25,377.5 247.5,383 247.5,430 236.25,420" fill="#5a5a5a" stroke="#000" stroke-width="1.69" stroke-linejoin="round" />
<polygon points="118.75,468.75 236.25,420 247.5,430 124.25,478.75" fill="#4c4c4c" stroke="#000" stroke-width="1.69" stroke-linejoin="round" />
<ellipse cx="150.2" cy="439.2" rx="4.8" ry="6.2" fill="#111"/><ellipse cx="150.2" cy="439.2" rx="3.2" ry="4.5" fill="#7c7c7c"/><ellipse cx="150.2" cy="439.2" rx="1.5" ry="2.1" fill="#9a9a9a" stroke="#111" stroke-width="1"/>
<ellipse cx="176.5" cy="429.5" rx="7.6" ry="10.2" fill="#111"/><ellipse cx="176.5" cy="429.5" rx="4.9" ry="7.2" fill="#8a8a8a"/><ellipse cx="176.8" cy="429.8" rx="2.1" ry="3" fill="#a0a0a0" stroke="#111" stroke-width="1.3"/>
<polygon points="45.75,442.5 68.75,458 221.25,388 195,377.5" fill="url(#aBot)" stroke="#000" stroke-width="1.82" stroke-linejoin="round" />
<polygon points="47.5,393 195,323 195,377.5 45.75,442.5" fill="url(#aFront)" stroke="#000" stroke-width="1.95" stroke-linejoin="round" />
<polygon points="195,323 221.25,334.75 221.25,388 195,377.5" fill="url(#aEnd)" stroke="#000" stroke-width="1.82" stroke-linejoin="round" />
<ellipse cx="53" cy="444.2" rx="2.8" ry="2" fill="#858585" stroke="#111" stroke-width="1.5"/>
<ellipse cx="59.5" cy="448.8" rx="2.2" ry="1.7" fill="#858585" stroke="#111" stroke-width="1.5"/>
<ellipse cx="67" cy="451.4" rx="3" ry="2.2" fill="#858585" stroke="#111" stroke-width="1.5"/>
<ellipse cx="161.2" cy="399.6" rx="3.2" ry="2.4" fill="#858585" stroke="#111" stroke-width="1.5"/>
<ellipse cx="192.6" cy="383.8" rx="3" ry="2.2" fill="#858585" stroke="#111" stroke-width="1.5"/>
<ellipse cx="203.6" cy="383" rx="2" ry="1.6" fill="#858585" stroke="#111" stroke-width="1.5"/>
<ellipse cx="205" cy="390.4" rx="3" ry="2.2" fill="#858585" stroke="#111" stroke-width="1.5"/>
</g>
<rect x="16.75" y="288" width="238.25" height="231" fill="none" stroke="#000" stroke-width="1.82" rx="0"/>
<defs>
<clipPath id="cB"><rect x="316.5" y="288" width="238.25" height="231"/></clipPath>
<linearGradient id="bFront" gradientUnits="userSpaceOnUse" x1="346" y1="420" x2="496" y2="350"><stop offset="0" stop-color="#c6c6c6"/><stop offset="0.5" stop-color="#989898"/><stop offset="1" stop-color="#666"/></linearGradient>
<linearGradient id="bEnd" gradientUnits="userSpaceOnUse" x1="496" y1="350" x2="523" y2="362"><stop offset="0" stop-color="#dcdcdc"/><stop offset="1" stop-color="#6c6c6c"/></linearGradient>
<linearGradient id="bBot" gradientUnits="userSpaceOnUse" x1="350" y1="450" x2="515" y2="380"><stop offset="0" stop-color="#d0d0d0"/><stop offset="0.5" stop-color="#a0a0a0"/><stop offset="1" stop-color="#7e7e7e"/></linearGradient>
<linearGradient id="bArm" gradientUnits="userSpaceOnUse" x1="420" y1="452" x2="540" y2="402"><stop offset="0" stop-color="#808080"/><stop offset="0.25" stop-color="#b0b0b0"/><stop offset="0.6" stop-color="#d4d4d4"/><stop offset="1" stop-color="#eeeeee"/></linearGradient>
<linearGradient id="bWall" gradientUnits="userSpaceOnUse" x1="385" y1="0" x2="555" y2="0"><stop offset="0" stop-color="#c8c8c8"/><stop offset="0.45" stop-color="#8e8e8e"/><stop offset="1" stop-color="#6a6a6a"/></linearGradient>
<linearGradient id="bLip" gradientUnits="userSpaceOnUse" x1="343" y1="0" x2="493" y2="0"><stop offset="0" stop-color="#d8d8d8"/><stop offset="1" stop-color="#8c8c8c"/></linearGradient>
<linearGradient id="bPlate" gradientUnits="userSpaceOnUse" x1="366" y1="0" x2="513" y2="0"><stop offset="0" stop-color="#a2a2a2"/><stop offset="1" stop-color="#747474"/></linearGradient>
<linearGradient id="bPanel" gradientUnits="userSpaceOnUse" x1="438" y1="0" x2="555" y2="0"><stop offset="0" stop-color="#c0c0c0"/><stop offset="1" stop-color="#666"/></linearGradient>
</defs>
<g id="botB" clip-path="url(#cB)">
<polygon points="517.3,327.7 556,309.5 556,333 522.8,347.3 517.3,345" fill="#585858" stroke="#000" stroke-width="1.69" stroke-linejoin="round" />
<polygon points="522.8,347.3 556,333 556,347.8 522.8,360.5" fill="#646464" stroke="#000" stroke-width="1.69" stroke-linejoin="round" />
<polygon points="522.8,373.6 556,358.8 556,520 384.75,520 384.75,446 522.8,384" fill="url(#bWall)" stroke="#000" stroke-width="1.69" stroke-linejoin="round" />
<polygon points="434.75,520 434.75,497.5 556,455.8 556,520" fill="#4e4e4e" stroke="#000" stroke-width="1.69" stroke-linejoin="round" />
<polygon points="438.5,520 438.5,502 556,461.6 556,520" fill="url(#bPanel)" stroke="#000" stroke-width="1.56" stroke-linejoin="round" />
<path d="M336.5,370.8 L498.5,289 L502,287" fill="none" stroke="#000" stroke-width="1.95" />
<polygon points="324.2,376.4 336.5,370.8 323.3,520 316,520 316,424.7" fill="#848484" stroke="#000" stroke-width="1.69" stroke-linejoin="round" />
<polygon points="333.7,418.4 344.1,422.5 341.6,520 323.3,520" fill="#a4a4a4" stroke="#000" stroke-width="1.69" stroke-linejoin="round" />
<path d="M365.3,457.9 L360.5,520" fill="none" stroke="#000" stroke-width="1.69" />
<polygon points="366,360.4 512.2,291.8 512.2,340 366,400" fill="url(#bPlate)" stroke="#000" stroke-width="1.82" stroke-linejoin="round" />
<polygon points="512.2,291.8 516.4,293.6 516.4,331 512.2,333" fill="#3c3c3c" stroke="#000" stroke-width="1.43" stroke-linejoin="round" />
<ellipse cx="377" cy="363.6" rx="2.1" ry="2.7" fill="#777" stroke="#111" stroke-width="1.7"/>
<ellipse cx="428" cy="338.6" rx="2.1" ry="2.7" fill="#777" stroke="#111" stroke-width="1.7"/>
<ellipse cx="495.6" cy="306.6" rx="2.1" ry="2.7" fill="#777" stroke="#111" stroke-width="1.7"/>
<polygon points="419.75,430 538.5,380.5 538.5,422.5 419.75,473.75" fill="url(#bArm)" stroke="#000" stroke-width="1.82" stroke-linejoin="round" />
<polygon points="538.5,380.5 547.25,385.5 549.75,430 538.5,422.5" fill="#5a5a5a" stroke="#000" stroke-width="1.69" stroke-linejoin="round" />
<polygon points="419.75,473.75 538.5,422.5 549.75,430 428.5,480" fill="#4c4c4c" stroke="#000" stroke-width="1.69" stroke-linejoin="round" />
<ellipse cx="451.6" cy="440" rx="4.8" ry="6.2" fill="#111"/><ellipse cx="451.6" cy="440" rx="3.2" ry="4.5" fill="#7c7c7c"/><ellipse cx="451.6" cy="440" rx="1.5" ry="2.1" fill="#9a9a9a" stroke="#111" stroke-width="1"/>
<ellipse cx="478" cy="430.8" rx="7.6" ry="10.2" fill="#111"/><ellipse cx="478" cy="430.8" rx="4.9" ry="7.2" fill="#8a8a8a"/><ellipse cx="478.3" cy="431.1" rx="2.1" ry="3" fill="#a0a0a0" stroke="#111" stroke-width="1.3"/>
<polygon points="346,442.5 369.75,457.5 522.25,389.25 496,375.5" fill="url(#bBot)" stroke="#000" stroke-width="1.82" stroke-linejoin="round" />
<polygon points="346.4,394.3 496.2,323.3 496,375.5 346,442.5" fill="url(#bFront)" stroke="#000" stroke-width="1.95" stroke-linejoin="round" />
<polygon points="496.2,323.3 522.25,336.75 522.25,389.25 496,375.5" fill="url(#bEnd)" stroke="#000" stroke-width="1.82" stroke-linejoin="round" />
<polygon points="343.4,385.7 489.7,312.5 496.2,323.3 346.4,394.3" fill="#4c4c4c" stroke="#000" stroke-width="1.69" stroke-linejoin="round" />
<polygon points="343.4,385.7 489.7,312.5 492.6,317 344.8,389.6" fill="url(#bLip)" stroke="#000" stroke-width="1.3" stroke-linejoin="round" />
<ellipse cx="359" cy="442.6" rx="2.8" ry="2" fill="#858585" stroke="#111" stroke-width="1.5"/>
<ellipse cx="362" cy="448" rx="2" ry="1.5" fill="#858585" stroke="#111" stroke-width="1.5"/>
<ellipse cx="372.6" cy="449.6" rx="3" ry="2.2" fill="#858585" stroke="#111" stroke-width="1.5"/>
<ellipse cx="464" cy="399.6" rx="3.2" ry="2.4" fill="#858585" stroke="#111" stroke-width="1.5"/>
<ellipse cx="495.2" cy="384.4" rx="3" ry="2.2" fill="#858585" stroke="#111" stroke-width="1.5"/>
<ellipse cx="506" cy="385.8" rx="2" ry="1.6" fill="#858585" stroke="#111" stroke-width="1.5"/>
<ellipse cx="509.6" cy="391.6" rx="3" ry="2.2" fill="#858585" stroke="#111" stroke-width="1.5"/>
</g>
<rect x="316.5" y="288" width="238.25" height="231" fill="none" stroke="#000" stroke-width="1.82" rx="0"/>
<defs>
<clipPath id="cC"><rect x="612.5" y="288" width="238.75" height="231"/></clipPath>
<linearGradient id="cHead" gradientUnits="userSpaceOnUse" x1="612" y1="0" x2="728" y2="0"><stop offset="0" stop-color="#fafafa"/><stop offset="0.5" stop-color="#cfcfcf"/><stop offset="1" stop-color="#909090"/></linearGradient>
<linearGradient id="cDoor" gradientUnits="userSpaceOnUse" x1="612" y1="0" x2="750" y2="0"><stop offset="0" stop-color="#cacaca"/><stop offset="0.5" stop-color="#8e8e8e"/><stop offset="1" stop-color="#545454"/></linearGradient>
<linearGradient id="cTop" gradientUnits="userSpaceOnUse" x1="612" y1="0" x2="770" y2="0"><stop offset="0" stop-color="#b0b0b0"/><stop offset="0.6" stop-color="#8a8a8a"/><stop offset="1" stop-color="#505050"/></linearGradient>
<linearGradient id="cSide" gradientUnits="userSpaceOnUse" x1="750" y1="0" x2="771" y2="0"><stop offset="0" stop-color="#d4d4d4"/><stop offset="1" stop-color="#8c8c8c"/></linearGradient>
<linearGradient id="cPlate" gradientUnits="userSpaceOnUse" x1="627" y1="0" x2="709" y2="0"><stop offset="0" stop-color="#aaa"/><stop offset="0.3" stop-color="#e8e8e8"/><stop offset="1" stop-color="#8a8a8a"/></linearGradient>
<linearGradient id="cZ" gradientUnits="userSpaceOnUse" x1="700" y1="0" x2="731" y2="0"><stop offset="0" stop-color="#b8b8b8"/><stop offset="1" stop-color="#808080"/></linearGradient>
</defs>
<g id="botC" clip-path="url(#cC)">
<rect x="611" y="320.4" width="118.4" height="17.2" fill="url(#cHead)" stroke="#000" stroke-width="1.95" rx="0"/>
<polygon points="798.6,320.4 834.6,320.4 834.6,520 815,520 815,340.8 798.6,340.8" fill="#686868" stroke="#000" stroke-width="2.08" stroke-linejoin="round" />
<rect x="729.4" y="320.4" width="69.2" height="17.2" fill="#0a0a0a" stroke="#000" stroke-width="1.95" rx="0"/>
<rect x="730.6" y="322" width="1.1" height="14.6" fill="#ddd"/>
<rect x="733.3" y="326.6" width="48" height="2.9" fill="#e2e2e2"/><rect x="733.3" y="331.8" width="48" height="1.7" fill="#dcdcdc"/>
<rect x="783.2" y="324.5" width="14.4" height="12" fill="#8a8a8a"/>
<path d="M611,337.6 H815 V520 H812.3 V340.8 H611 Z" fill="#8c8c8c"/>
<path d="M611,337.6 H815 V520" fill="none" stroke="#000" stroke-width="1.95" />
<path d="M611,340.8 H812.3 V520" fill="none" stroke="#000" stroke-width="1.95" />
<polygon points="611,389.9 770.75,447.5 750,463 611,411.6" fill="url(#cTop)" stroke="#000" stroke-width="1.82" stroke-linejoin="round" />
<polygon points="611,411.6 750,463 750,520 611,520" fill="url(#cDoor)" stroke="#000" stroke-width="1.82" stroke-linejoin="round" />
<polygon points="750,463 770.75,447.5 770.75,520 750,520" fill="url(#cSide)" stroke="#000" stroke-width="1.82" stroke-linejoin="round" />
<polygon points="650.6,464 702.8,480.9 702.8,477.4 650.6,460.4" fill="#f6f6f6" stroke="#000" stroke-width="1.43" stroke-linejoin="round" />
<polygon points="708.1,476.1 726.9,458.2 732.1,461.5 732.1,491.6 729,497.5 703.9,481.8 703.9,477.6" fill="url(#cZ)" stroke="#000" stroke-width="1.69" stroke-linejoin="round" />
<polygon points="713.3,451.9 726.9,458.2 708.1,476.1 702.8,474" fill="#f6f6f6" stroke="#000" stroke-width="1.43" stroke-linejoin="round" />
<path d="M729,497.5 L729,466 L732.1,461.5 M729,466 L708.1,476.1" fill="none" stroke="#000" stroke-width="1.3" />
<ellipse cx="721" cy="479.7" rx="2.2" ry="2.6" fill="#ddd" stroke="#111" stroke-width="1.2"/>
<polygon points="627.1,419.7 701.8,446.9 701.8,474.4 627.1,448.4" fill="url(#cPlate)" stroke="#000" stroke-width="1.82" stroke-linejoin="round" />
<polygon points="627.1,448.4 701.8,474.4 701.8,477.6 627.1,451.6" fill="#f2f2f2" stroke="#000" stroke-width="1.3" stroke-linejoin="round" />
<polygon points="627.1,419.7 637,410.7 710.1,437.9 701.8,446.9" fill="#555" stroke="#000" stroke-width="1.69" stroke-linejoin="round" />
<path d="M630,417.4 L704,444.4" fill="none" stroke="#000" stroke-width="1.17" stroke="#bbb"/>
<polygon points="701.8,446.9 710.1,437.9 712.2,455.6 706,465 702.2,465" fill="#a8a8a8" stroke="#000" stroke-width="1.43" stroke-linejoin="round" />
<ellipse cx="634.9" cy="435.8" rx="2" ry="2.5" fill="#555" stroke="#111" stroke-width="1.1"/>
<ellipse cx="664.1" cy="446.9" rx="2.9" ry="3.9" fill="#666" stroke="#111" stroke-width="1.4"/>
<ellipse cx="691.7" cy="456.7" rx="2" ry="2.5" fill="#555" stroke="#111" stroke-width="1.1"/>
</g>
<rect x="612.5" y="288" width="238.75" height="231" fill="none" stroke="#000" stroke-width="1.82" rx="0"/>
<defs>
<clipPath id="cD"><rect x="912.75" y="288" width="252" height="231"/></clipPath>
<linearGradient id="dHead" gradientUnits="userSpaceOnUse" x1="912" y1="0" x2="1129" y2="0"><stop offset="0" stop-color="#fafafa"/><stop offset="0.35" stop-color="#c6c6c6"/><stop offset="0.75" stop-color="#808080"/><stop offset="1" stop-color="#5e5e5e"/></linearGradient>
<linearGradient id="dGlass" gradientUnits="userSpaceOnUse" x1="912" y1="0" x2="1057" y2="0"><stop offset="0" stop-color="#c2c2c2"/><stop offset="0.5" stop-color="#9c9c9c"/><stop offset="1" stop-color="#606060"/></linearGradient>
<linearGradient id="dTop" gradientUnits="userSpaceOnUse" x1="912" y1="0" x2="1065" y2="0"><stop offset="0" stop-color="#c4c4c4"/><stop offset="1" stop-color="#707070"/></linearGradient>
<linearGradient id="dU" gradientUnits="userSpaceOnUse" x1="967" y1="0" x2="1048" y2="0"><stop offset="0" stop-color="#fff"/><stop offset="0.35" stop-color="#d0d0d0"/><stop offset="1" stop-color="#7a7a7a"/></linearGradient>
<linearGradient id="dUt" gradientUnits="userSpaceOnUse" x1="967" y1="0" x2="1057" y2="0"><stop offset="0" stop-color="#b8b8b8"/><stop offset="1" stop-color="#6c6c6c"/></linearGradient>
<linearGradient id="dLk" gradientUnits="userSpaceOnUse" x1="1086" y1="0" x2="1101" y2="0"><stop offset="0" stop-color="#a4a4a4"/><stop offset="1" stop-color="#5c5c5c"/></linearGradient>
<linearGradient id="dLk2" gradientUnits="userSpaceOnUse" x1="1034" y1="0" x2="1101" y2="0"><stop offset="0" stop-color="#fff"/><stop offset="0.5" stop-color="#c8c8c8"/><stop offset="1" stop-color="#6a6a6a"/></linearGradient>
</defs>
<g id="botD" clip-path="url(#cD)">
<polygon points="911,320.5 1128,320.5 1128,520 1108.4,520 1108.4,337 911,337" fill="url(#dHead)" stroke="#000" stroke-width="2.08" stroke-linejoin="round" />
<rect x="1108.4" y="338" width="19.6" height="183" fill="#646464"/>
<path d="M1128,320.5 V520" fill="none" stroke="#000" stroke-width="2.08" />
<path d="M911,337 H1108.4 V520 H1105.5 V339.9 H911 Z" fill="#909090"/>
<path d="M911,337 H1108.4 V520" fill="none" stroke="#000" stroke-width="1.95" />
<path d="M911,339.9 H1105.5 V520" fill="none" stroke="#000" stroke-width="1.82" />
<rect x="1031.3" y="339.4" width="70.8" height="19.0" fill="#fff" stroke="#000" stroke-width="1.82" rx="0"/>
<rect x="1034" y="352.6" width="66.6" height="3.3" fill="url(#dLk2)"/>
<rect x="1034" y="340.4" width="52" height="12.6" fill="#0a0a0a" stroke="#000" stroke-width="0.65" rx="0"/>
<rect x="1036" y="344.7" width="48.5" height="2.1" fill="#e8e8e8"/><rect x="1036" y="349.2" width="48.5" height="1.6" fill="#e0e0e0"/>
<rect x="1086" y="341" width="14.8" height="14.9" fill="url(#dLk)"/>
<polygon points="911,388.8 1064.9,447.7 1056.4,452.4 911,396.7" fill="url(#dTop)" stroke="#000" stroke-width="1.82" stroke-linejoin="round" />
<polygon points="911,396.7 1056.4,452.4 1056.4,520 911,520" fill="url(#dGlass)" stroke="#000" stroke-width="1.82" stroke-linejoin="round" />
<polygon points="1056.4,452.4 1064.9,447.7 1064.9,520 1056.4,520" fill="#787878" stroke="#000" stroke-width="1.69" stroke-linejoin="round" />
<line x1="927.8" y1="425.8" x2="939.3" y2="414.3" stroke="#111" stroke-width="1.9" stroke-linecap="round"/>
<line x1="914.2" y1="437.3" x2="923.6" y2="428.9" stroke="#111" stroke-width="1.9" stroke-linecap="round"/>
<line x1="924.6" y1="445.6" x2="937.2" y2="434.1" stroke="#111" stroke-width="1.9" stroke-linecap="round"/>
<line x1="948.7" y1="436.2" x2="961.2" y2="423.7" stroke="#111" stroke-width="1.9" stroke-linecap="round"/>
<line x1="917" y1="470" x2="939" y2="448.75" stroke="#111" stroke-width="1.9" stroke-linecap="round"/>
<line x1="935.1" y1="467.6" x2="947.6" y2="456.1" stroke="#111" stroke-width="1.9" stroke-linecap="round"/>
<line x1="955.2" y1="466" x2="967.7" y2="454.6" stroke="#111" stroke-width="1.9" stroke-linecap="round"/>
<line x1="960.2" y1="483.3" x2="986.3" y2="460.3" stroke="#111" stroke-width="1.9" stroke-linecap="round"/>
<line x1="995" y1="476" x2="1007.5" y2="465.2" stroke="#111" stroke-width="1.9" stroke-linecap="round"/>
<line x1="1010.3" y1="483.5" x2="1022.4" y2="472.6" stroke="#111" stroke-width="1.9" stroke-linecap="round"/>
<line x1="929" y1="493.75" x2="942.75" y2="481.25" stroke="#111" stroke-width="1.9" stroke-linecap="round"/>
<line x1="934" y1="512.5" x2="945.25" y2="501.25" stroke="#111" stroke-width="1.9" stroke-linecap="round"/>
<line x1="950.25" y1="493.75" x2="960" y2="485" stroke="#111" stroke-width="1.9" stroke-linecap="round"/>
<line x1="961.5" y1="512.5" x2="974" y2="501.25" stroke="#111" stroke-width="1.9" stroke-linecap="round"/>
<line x1="964.75" y1="494" x2="974.4" y2="485.6" stroke="#111" stroke-width="1.9" stroke-linecap="round"/>
<line x1="985.25" y1="503.75" x2="999" y2="491.25" stroke="#111" stroke-width="1.9" stroke-linecap="round"/>
<line x1="1004" y1="503.75" x2="1017.75" y2="491.25" stroke="#111" stroke-width="1.9" stroke-linecap="round"/>
<line x1="1014" y1="513.75" x2="1049" y2="478.75" stroke="#111" stroke-width="1.9" stroke-linecap="round"/>
<polygon points="966.9,419.5 981.1,410.1 1057.4,439 1048,450.9" fill="url(#dUt)" stroke="#000" stroke-width="1.69" stroke-linejoin="round" />
<path d="M973,415.4 L1052.6,445.4" fill="none" stroke="#000" stroke-width="1.3" />
<polygon points="966.9,419.5 1048,450.9 1048,471.8 966.9,441.5" fill="url(#dU)" stroke="#000" stroke-width="1.82" stroke-linejoin="round" />
<polygon points="1048,450.9 1057.4,439 1057.4,448 1053,450 1051,452 1048,453" fill="#e4e4e4" stroke="#000" stroke-width="1.56" stroke-linejoin="round" />
</g>
<rect x="912.75" y="288" width="252.0" height="231" fill="none" stroke="#000" stroke-width="1.82" rx="0"/>
</svg>
</body></html>
